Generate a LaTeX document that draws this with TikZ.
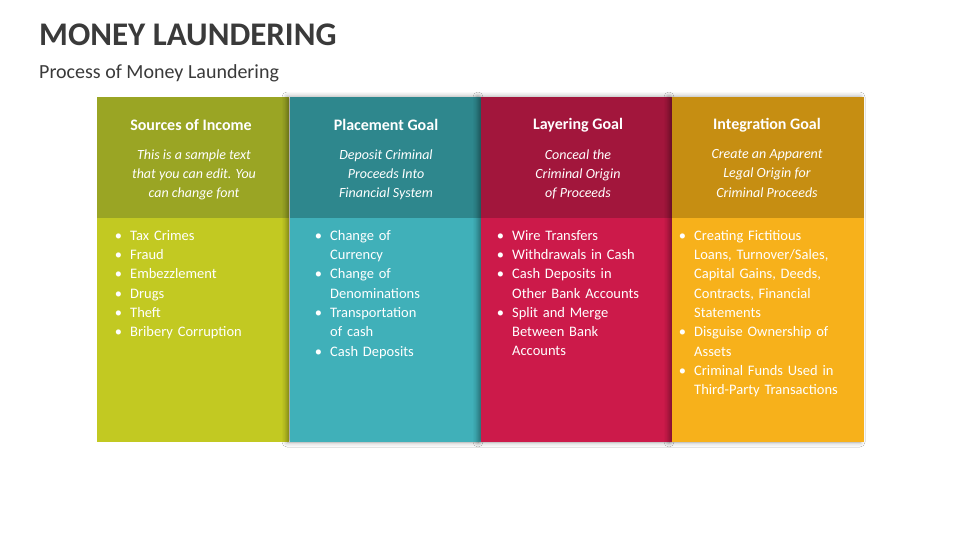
\documentclass[tikz,border=0pt]{standalone}
\usepackage{fontspec}
\setmainfont{Carlito}
\usetikzlibrary{shadows.blur}
\definecolor{hA}{HTML}{9AA524}\definecolor{bA}{HTML}{C2C922}
\definecolor{hB}{HTML}{2E878D}\definecolor{bB}{HTML}{40B0B9}
\definecolor{hC}{HTML}{A2163C}\definecolor{bC}{HTML}{CC1A4A}
\definecolor{hD}{HTML}{C68E12}\definecolor{bD}{HTML}{F7B11B}
\definecolor{ink}{HTML}{3A3A3A}
\tikzset{
 ttl/.style={font=\bfseries\fontsize{16}{19}\selectfont,text=white,anchor=center},
 sub/.style={font=\itshape\fontsize{14}{19.3}\selectfont,text=white,align=center,anchor=north},
 bul/.style={font=\fontsize{14.5}{19.3}\selectfont,text=white,align=left,anchor=north west,text width=170pt,inner sep=0pt},
}
\newcommand{\bl}[1]{\makebox[0pt][r]{\textbullet\hspace{8pt}}#1\\}
\begin{document}
\begin{tikzpicture}[x=1pt,y=-1pt]
\useasboundingbox (0,0) rectangle (960,540);
\fill[white] (0,0) rectangle (960,540);
\node[font=\bfseries\fontsize{33}{36}\selectfont,text=ink,anchor=west,inner sep=0pt] (title) at (39,35) {MONEY LAUNDERING};
\node[font=\fontsize{20}{24}\selectfont,text=ink,anchor=west,inner sep=0pt] (subt) at (39,73) {Process of Money Laundering};
% columns
\foreach \x/\h/\b [count=\i] in {97/hA/bA,290/hB/bB,481/hC/bC,672/hD/bD}{
 \ifnum\i>1
  \fill[black!60,blur shadow={shadow xshift=-3pt,shadow yshift=0pt,shadow blur radius=5pt}] (\x,97) rectangle (\x+191,442);
 \fi
 \fill[\b] (\x,218) rectangle (\x+192,442);
 \fill[\h] (\x,97) rectangle (\x+192,218);
}
\node[ttl] (t1) at (191,125) {Sources of Income};
\node[ttl] (t2) at (386,125) {Placement Goal};
\node[ttl] (t3) at (578,125) {Layering Goal};
\node[ttl] (t4) at (767,125) {Integration Goal};
\node[sub] (s1) at (194,146) {This is a sample text\\that you can edit. You\\can change font};
\node[sub] (s2) at (386,146) {Deposit Criminal\\Proceeds Into\\Financial System};
\node[sub] (s3) at (578,146) {Conceal the\\Criminal Origin\\of Proceeds};
\node[sub] (s4) at (767,146) {Create an Apparent\\Legal Origin for\\Criminal Proceeds};
\node[bul] (l1) at (130,230) {\bl{Tax Crimes}\bl{Fraud}\bl{Embezzlement}\bl{Drugs}\bl{Theft}\bl{Bribery Corruption}};
\node[bul] (l2) at (330,230) {\bl{Change of}Currency\\\bl{Change of}Denominations\\\bl{Transportation}of cash\\\bl{Cash Deposits}};
\node[bul] (l3) at (512,230) {\bl{Wire Transfers}\bl{Withdrawals in Cash}\bl{Cash Deposits in}Other Bank Accounts\\\bl{Split and Merge}Between Bank\\Accounts};
\node[bul] (l4) at (694,230) {\bl{Creating Fictitious}Loans, Turnover/Sales,\\Capital Gains, Deeds,\\Contracts, Financial\\Statements\\\bl{Disguise Ownership of}Assets\\\bl{Criminal Funds Used in}Third-Party Transactions};
\end{tikzpicture}
\end{document}
